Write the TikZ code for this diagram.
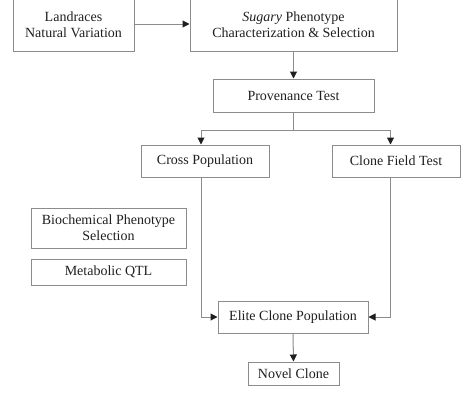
\documentclass[tikz,border=0pt]{standalone}
\usepackage{fontspec}
\setmainfont{Liberation Serif}
\usetikzlibrary{arrows.meta}
\begin{document}
\begin{tikzpicture}[x=1pt,y=-1pt,
  box/.style={draw=black!45, line width=1pt, align=center, inner sep=0pt,
    text=black!88, font=\fontsize{14}{16}\selectfont},
  conn/.style={draw=black!45, line width=1pt},
  arr/.style={conn, -{Triangle[length=7pt,width=7pt,color=black!88]}}]
\useasboundingbox (0,0) rectangle (474,402);
\node[box, minimum width=121pt, minimum height=52pt] (land) at (73.5,25) {Landraces\\Natural Variation};
\node[box, minimum width=207pt, minimum height=52pt] (sug) at (293.5,25) {\textit{Sugary} Phenotype\\Characterization \& Selection};
\node[box, minimum width=161pt, minimum height=33pt] (prov) at (293.5,95.5) {Provenance Test};
\node[box, minimum width=128pt, minimum height=32pt] (cross) at (205,161) {Cross Population};
\node[box, minimum width=128pt, minimum height=32pt] (clone) at (396,161) {Clone Field Test};
\node[box, minimum width=155pt, minimum height=40pt] (bio) at (108.5,228) {Biochemical Phenotype\\Selection};
\node[box, minimum width=155pt, minimum height=26pt] (qtl) at (108.5,272) {Metabolic QTL};
\node[box, minimum width=150pt, minimum height=32pt] (elite) at (293,317) {Elite Clone Population};
\node[box, minimum width=91pt, minimum height=23pt] (novel) at (293.5,373.5) {Novel Clone};
\coordinate (split) at (293.5,130);
\draw[arr] (land.east |- 0,24) -- (sug.west |- 0,24);
\draw[arr] (sug.south) -- (prov.north);
\draw[conn] (prov.south) -- (split);
\draw[arr] (split) -| ([xshift=-4pt]cross.north);
\draw[arr] (split) -| ([xshift=-5.5pt]clone.north);
\draw[arr] ([xshift=-4pt]cross.south) |- (elite.west);
\draw[arr] ([xshift=-5.5pt]clone.south) |- (elite.east);
\draw[arr] (elite.south) -- (novel.north);
\end{tikzpicture}
\end{document}
